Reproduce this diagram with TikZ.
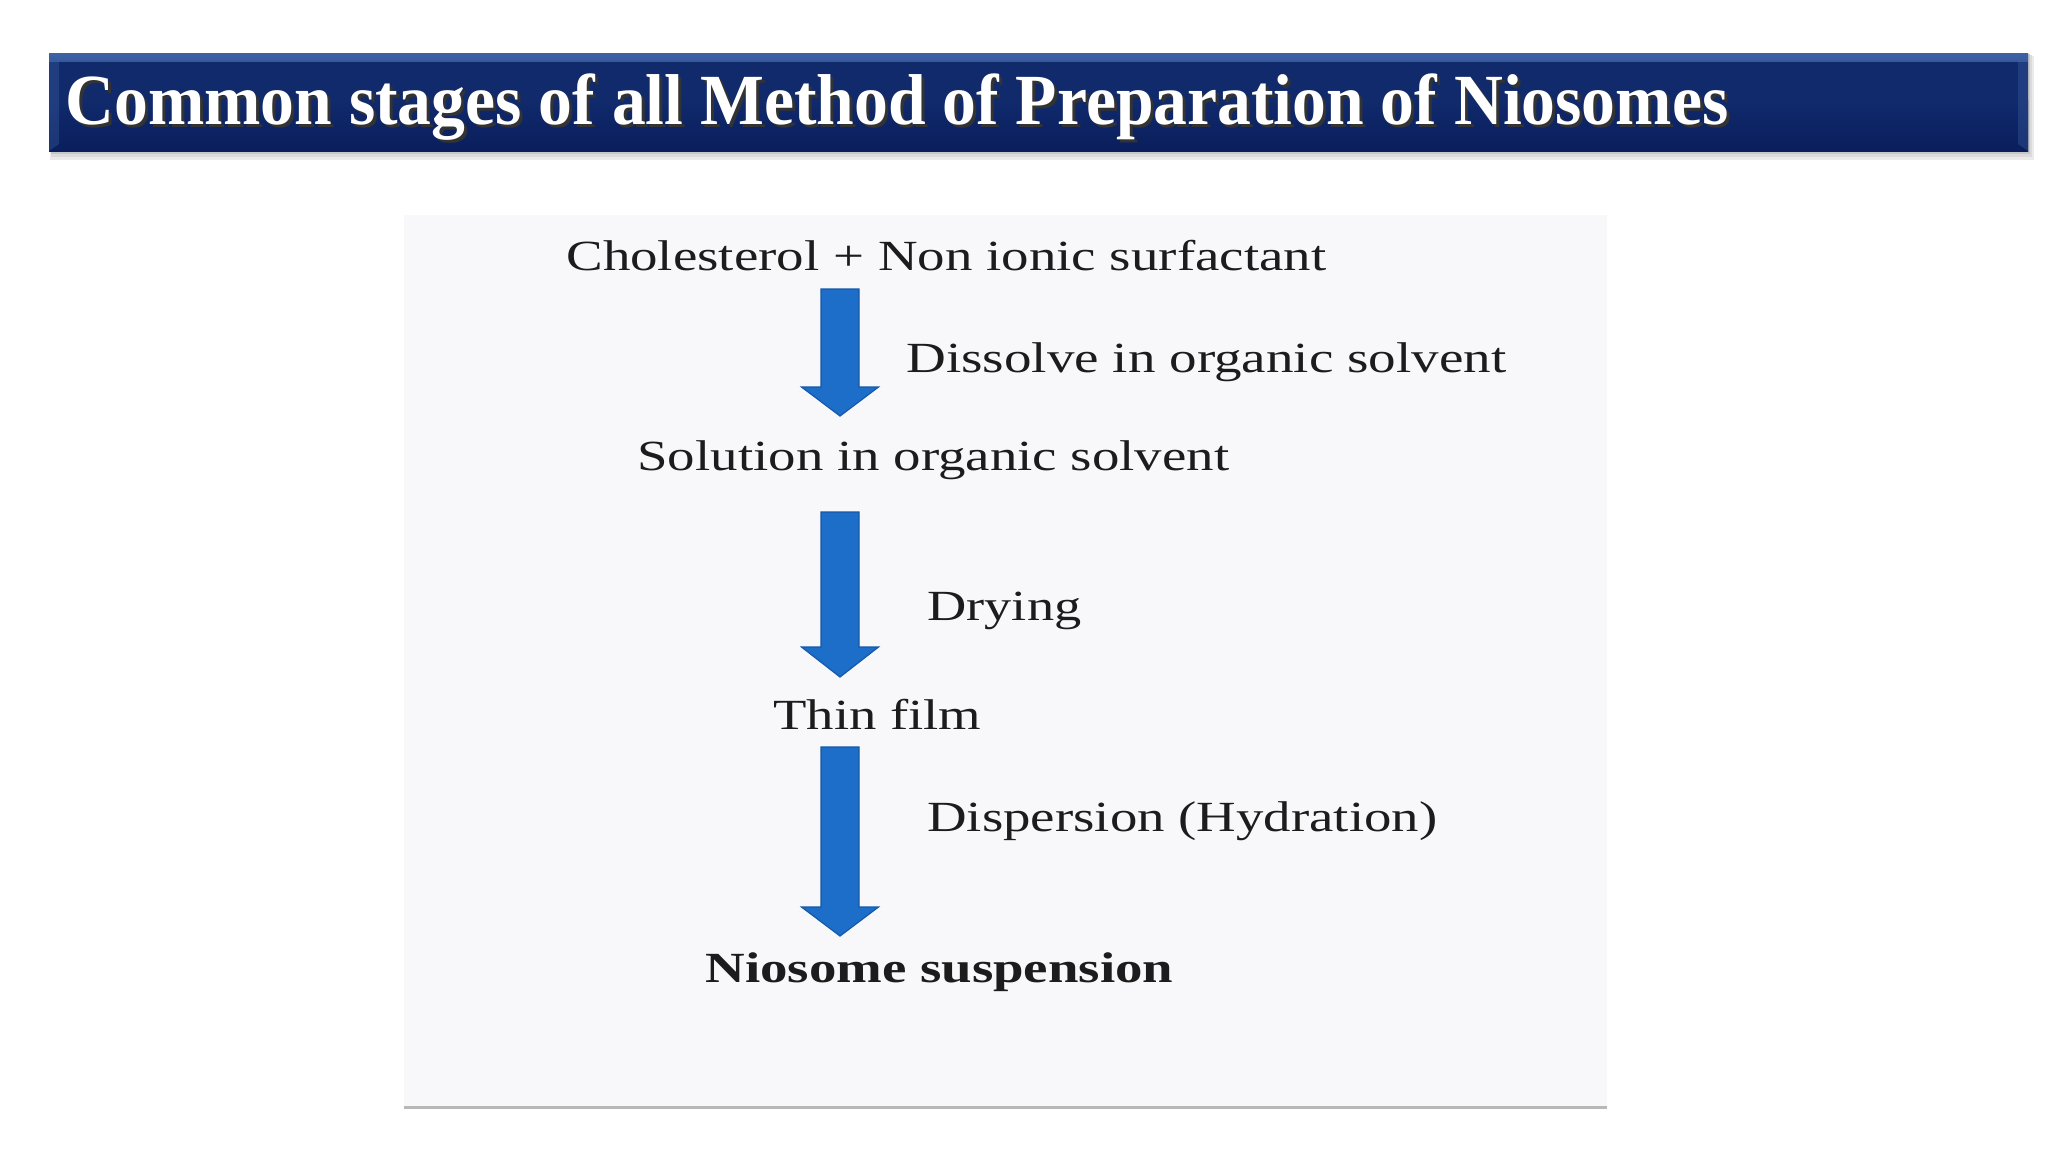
\documentclass[tikz,border=0pt]{standalone}
\usepackage{fontspec}
\setmainfont{Liberation Serif}
\usetikzlibrary{calc}
\definecolor{txtc}{RGB}{28,28,28}
\definecolor{arrc}{RGB}{28,110,200}
\definecolor{arre}{RGB}{22,88,170}
\definecolor{bartop}{RGB}{62,98,165}
\definecolor{barmid}{RGB}{16,42,108}
\definecolor{barbot}{RGB}{10,30,92}
\definecolor{panel}{RGB}{248,248,250}
\newcommand\fitw[2]{\resizebox{#1pt}{\height}{#2}}
\newcommand\blockarrow[3]{% top coordinate, head-start y offset, tip coordinate
  \filldraw[arrowfill] ($(#1)+(-19,0)$) -- ($(#1)+(19,0)$) -- ($(#3)+(19,-#2)$) -- ($(#3)+(38.5,-#2)$)
  -- (#3) -- ($(#3)+(-38.5,-#2)$) -- ($(#3)+(-19,-#2)$) -- cycle;}
\tikzset{
  lbl/.style={anchor=base west, inner sep=0pt, text=txtc, font=\fontsize{21.5}{24}\selectfont},
  boldlbl/.style={lbl, font=\bfseries\fontsize{21.5}{24}\selectfont},
  arrowfill/.style={fill=arrc, draw=arre, line width=0.6pt, line join=miter},
  titletext/.style={anchor=base west, inner sep=0pt, font=\bfseries\fontsize{36}{40}\selectfont},
}
\begin{document}
\begin{tikzpicture}[x=0.5pt,y=-0.5pt]
\useasboundingbox (0,0) rectangle (2048,1152);
\fill[white] (0,0) rectangle (2048,1152);
% title bar shadow
\fill[black!8] (50,56) rectangle (2034,160);
\fill[black!14] (51,55) rectangle (2032,157);
\fill[black!22] (51,54) rectangle (2030,154);
% title bar
\shade[top color=bartop, bottom color=barbot, middle color=barmid] (49,53) rectangle (2028,151);
\fill[barmid] (49,62) rectangle (2028,148);
\shade[top color=barmid, bottom color=barbot] (49,100) rectangle (2028,151);
\fill[bartop, opacity=0.55] (49,53) -- (2028,53) -- (2018,60) -- (59,60) -- cycle;
\fill[bartop, opacity=0.35] (49,53) -- (59,60) -- (59,144) -- (49,151) -- cycle;
\fill[bartop, opacity=0.35] (2028,53) -- (2018,60) -- (2018,144) -- (2028,151) -- cycle;
\node[titletext, text=black!80] (titleshadow) at (68,127) {\fitw{831.5}{Common stages of all Method of Preparation of Niosomes}};
\node[titletext, text=white] (title) at (65,124) {\fitw{831.5}{Common stages of all Method of Preparation of Niosomes}};
% panel
\fill[panel] (404,215) rectangle (1607,1106);
\draw[black!28, line width=1.5pt] (404,1107) -- (1607,1107);
% texts
\node[lbl] (chol) at (566,270) {\fitw{380}{Cholesterol + Non ionic surfactant}};
\node[lbl] (diss) at (906,372) {\fitw{300}{Dissolve in organic solvent}};
\node[lbl] (sol) at (637,470) {\fitw{296}{Solution in organic solvent}};
\node[lbl] (dry) at (927,620) {\fitw{77}{Drying}};
\node[lbl] (thin) at (773,729) {\fitw{104}{Thin film}};
\node[lbl] (disp) at (927,831) {\fitw{255}{Dispersion (Hydration)}};
\node[boldlbl] (nio) at (705,982) {\fitw{234}{Niosome suspension}};
% arrows
\coordinate (a1s) at (840,289);
\coordinate (a1e) at (840,416);
\coordinate (a2s) at (840,512);
\coordinate (a2e) at (840,677);
\coordinate (a3s) at (840,747);
\coordinate (a3e) at (840,936);
\blockarrow{a1s}{29}{a1e}
\blockarrow{a2s}{30}{a2e}
\blockarrow{a3s}{29}{a3e}
\end{tikzpicture}
\end{document}
